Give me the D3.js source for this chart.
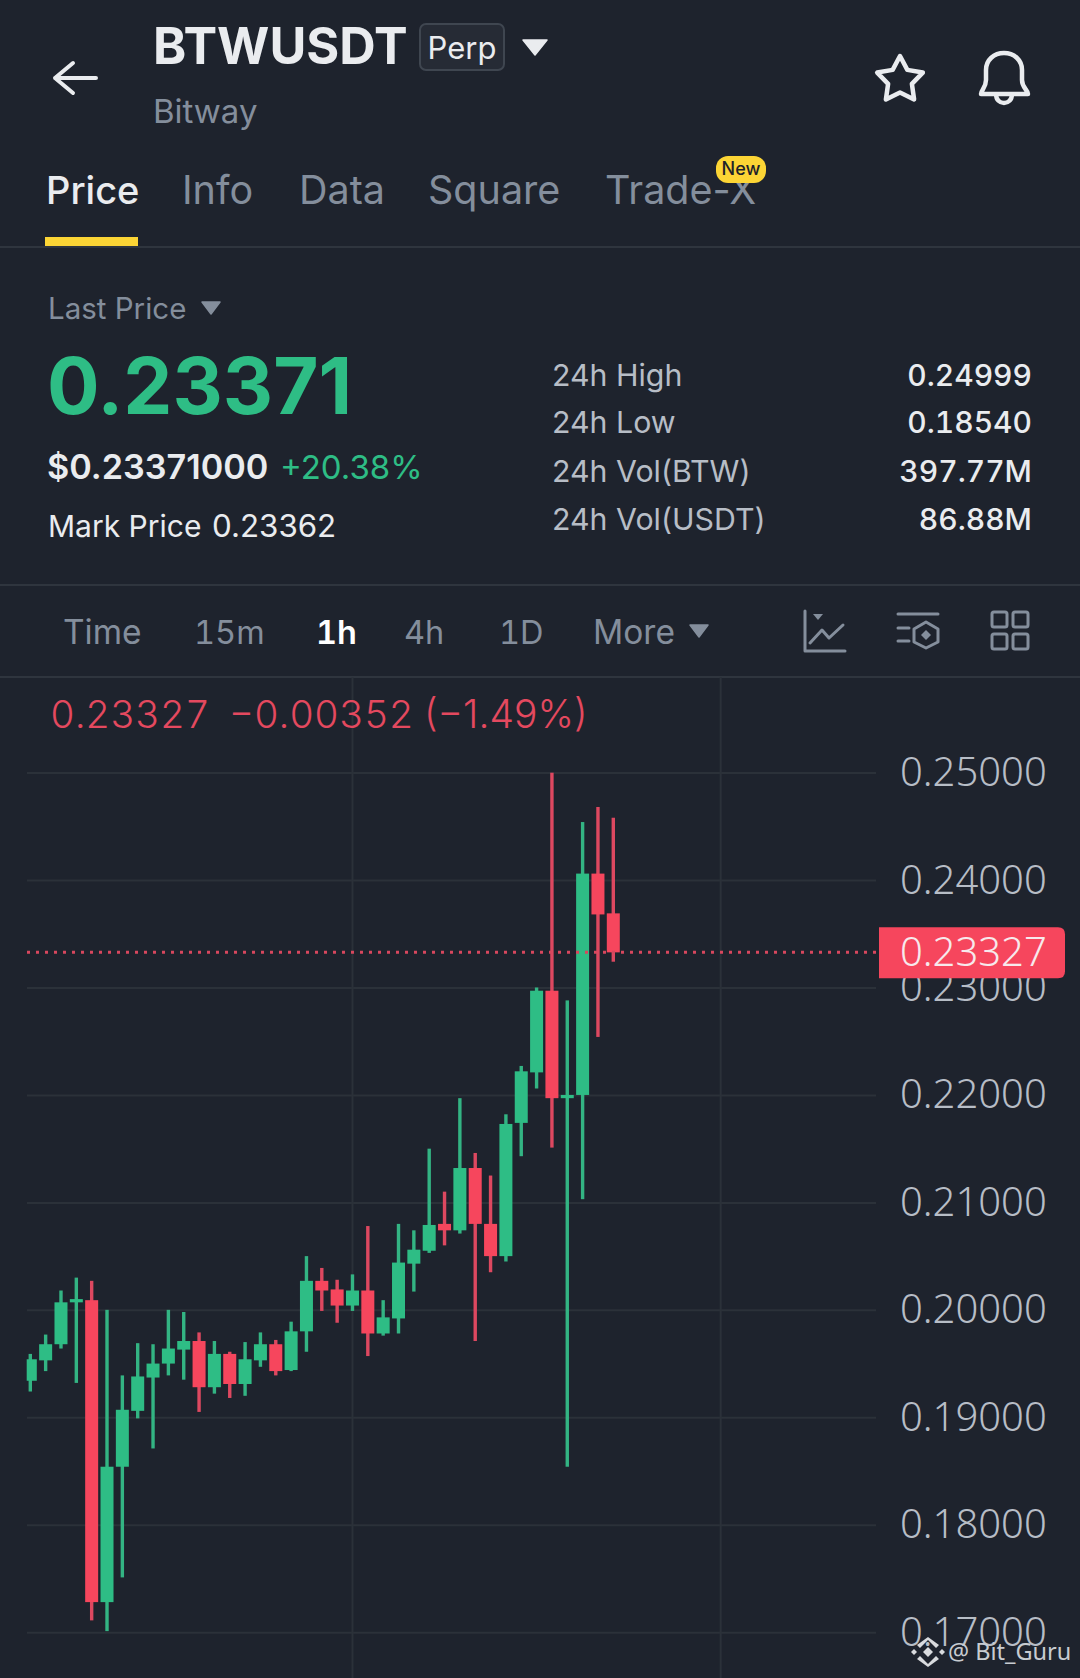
<!DOCTYPE html>
<html>
<head>
<meta charset="utf-8">
<script src="https://cdn.jsdelivr.net/npm/d3@7"></script>
<style>
	html, body { margin: 0; padding: 0; background: #1e232d; }
	svg { display: block; }
	text { font-family: Inter, sans-serif; }
	.tnum { font-feature-settings: "tnum"; }
	.axis-font text { font-family: "Noto Sans", sans-serif; }
</style>
</head>
<body>
<script>
const WIDTH = 1080;
const HEIGHT = 1678;

const BG = "#1e232d";
const GREEN = "#2ebd85";
const RED = "#f6465d";
const GRID = "#2b3139";
const GREY = "#848e9c";
const LIGHT = "#eaecef";

// candles, left to right
const opens = [0.1934, 0.1953, 0.1968, 0.2007, 0.2009, 0.1728, 0.1854, 0.1906, 0.1937, 0.1950, 0.1963, 0.1971, 0.1928, 0.1959, 0.1931, 0.1953, 0.1968, 0.1944, 0.1980, 0.2027, 0.2019, 0.2004, 0.2018, 0.1978, 0.1992, 0.2043, 0.2055, 0.2080, 0.2074, 0.2132, 0.2080, 0.2050, 0.2174, 0.2221, 0.2297, 0.2197, 0.2200, 0.2406, 0.2369];
const highs = [0.1959, 0.1977, 0.2018, 0.2030, 0.2027, 0.2000, 0.1939, 0.1969, 0.1968, 0.2000, 0.1998, 0.1979, 0.1971, 0.1961, 0.1970, 0.1979, 0.1972, 0.1989, 0.2050, 0.2039, 0.2028, 0.2033, 0.2078, 0.2009, 0.2080, 0.2074, 0.2150, 0.2110, 0.2197, 0.2146, 0.2125, 0.2182, 0.2227, 0.2300, 0.24999, 0.2288, 0.2454, 0.2468, 0.2458];
const lows = [0.1924, 0.1943, 0.1964, 0.1932, 0.1711, 0.1701, 0.1751, 0.1899, 0.1871, 0.1939, 0.1935, 0.1905, 0.1922, 0.1918, 0.1920, 0.1947, 0.1939, 0.1943, 0.1961, 0.1999, 0.1988, 0.1999, 0.1957, 0.1976, 0.1978, 0.2017, 0.2053, 0.2060, 0.2071, 0.1971, 0.2035, 0.2045, 0.2143, 0.2206, 0.2151, 0.1854, 0.2103, 0.2254, 0.2324];
const closes = [0.1954, 0.1968, 0.2007, 0.2010, 0.1728, 0.1854, 0.1907, 0.1938, 0.1950, 0.1964, 0.1971, 0.1928, 0.1959, 0.1931, 0.1954, 0.1968, 0.1943, 0.1980, 0.2027, 0.2018, 0.2004, 0.2018, 0.1978, 0.1993, 0.2044, 0.2056, 0.2079, 0.2074, 0.2132, 0.2080, 0.2050, 0.2173, 0.2222, 0.2297, 0.2197, 0.2200, 0.2406, 0.2368, 0.23327];

const priceTicks = [0.25, 0.24, 0.23, 0.22, 0.21, 0.2, 0.19, 0.18, 0.17];
const dayTicks = [21, 45]; // candle index where the vertical grid lines sit
const lastPrice = 0.23327;

const tabs = [["Price", 46], ["Info", 182], ["Data", 299], ["Square", 428], ["Trade-X", 605]];
const intervals = [["Time", 63], ["15m", 194], ["1h", 316], ["4h", 404], ["1D", 499], ["More", 593]];
const statLabels = ["24h High", "24h Low", "24h Vol(BTW)", "24h Vol(USDT)"];
const statValues = ["0.24999", "0.18540", "397.77M", "86.88M"];
const statBaselines = [386, 433, 482, 530];

const svg = d3
	.select("body")
	.append("svg")
	.attr("width", WIDTH)
	.attr("height", HEIGHT);

svg.append("rect").attr("width", WIDTH).attr("height", HEIGHT).attr("fill", BG);

function label(x, y, str, size, color, weight, anchor) {
	return svg
		.append("text")
		.attr("x", x)
		.attr("y", y)
		.attr("font-size", size)
		.attr("fill", color)
		.attr("font-weight", weight || 400)
		.attr("text-anchor", anchor || "start")
		.text(str);
}

function triangle(x0, x1, y0, y1, color) {
	svg
		.append("path")
		.attr("d", `M${x0},${y0}L${x1},${y0}L${(x0 + x1) / 2},${y1}Z`)
		.attr("fill", color)
		.attr("stroke", color)
		.attr("stroke-width", 1.5)
		.attr("stroke-linejoin", "round");
}

function hline(y, thick) {
	svg.append("rect").attr("x", 0).attr("y", y).attr("width", WIDTH).attr("height", thick).attr("fill", "#2f353e");
}

// ---- header ----
svg
	.append("path")
	.attr("d", "M96,78H55M73,63L55,78L73,93")
	.attr("fill", "none")
	.attr("stroke", LIGHT)
	.attr("stroke-width", 4)
	.attr("stroke-linecap", "round")
	.attr("stroke-linejoin", "round");

label(153, 64, "BTWUSDT", 50.4, LIGHT, 700);
svg
	.append("rect")
	.attr("x", 420)
	.attr("y", 24)
	.attr("width", 84)
	.attr("height", 46)
	.attr("rx", 6)
	.attr("fill", "#262b35")
	.attr("stroke", "#3f4650")
	.attr("stroke-width", 2);
label(462, 59, "Perp", 31, LIGHT, 400, "middle");
triangle(523, 547, 40, 55, LIGHT);
label(153, 123, "Bitway", 33, GREY);

const star = d3.range(10).map((i) => {
	const r = i % 2 ? 12.5 : 24;
	const a = (i * Math.PI) / 5 - Math.PI / 2;
	return [900 + r * Math.cos(a), 80 + r * Math.sin(a)];
});
svg
	.append("path")
	.attr("d", d3.line()(star) + "Z")
	.attr("fill", "none")
	.attr("stroke", LIGHT)
	.attr("stroke-width", 4.5)
	.attr("stroke-linejoin", "round");

svg
	.append("path")
	.attr("d", "M981,94C981,90 986,88 986,80V70C986,60 994,53 1004,53C1014,53 1022,60 1022,70V80C1022,88 1028,90 1028,94ZM996,94C996,106 1012,106 1012,94")
	.attr("fill", "none")
	.attr("stroke", LIGHT)
	.attr("stroke-width", 4.5)
	.attr("stroke-linejoin", "round");

// ---- tabs ----
tabs.forEach(([name, x], i) => {
	label(x, 204, name, i === 0 ? 38 : 39.5, i === 0 ? LIGHT : GREY, i === 0 ? 500 : 400);
});
svg.append("rect").attr("x", 716).attr("y", 156).attr("width", 50).attr("height", 27).attr("rx", 12).attr("fill", "#fcd535");
label(741, 175, "New", 18, "#1e2329", 500, "middle");
svg.append("rect").attr("x", 45).attr("y", 237).attr("width", 93).attr("height", 9).attr("fill", "#fcd535");
hline(246, 2);

// ---- price block ----
label(48, 319, "Last Price", 29.5, GREY);
triangle(202, 220, 302, 314, GREY);
label(47, 414, "0.23371", 78, GREEN, 700);
label(47, 479, "$0.23371000", 34.2, LIGHT, 600);
label(280, 479, "+20.38%", 33, GREEN);
label(48, 537, "Mark Price", 30, LIGHT);
label(212, 537, "0.23362", 31.3, LIGHT);

statLabels.forEach((s, i) => {
	label(552, statBaselines[i], s, 30.3, "#b7bdc6");
	label(1032, statBaselines[i], statValues[i], 30, LIGHT, 500, "end").attr("class", "tnum");
});
hline(584, 2);

// ---- interval row ----
intervals.forEach(([name, x]) => {
	const wordy = name === "Time" || name === "More";
	label(x, 644, name, wordy ? 33.5 : 32.5, name === "1h" ? "#ffffff" : GREY, name === "1h" ? 600 : 400).attr("class", "tnum");
});
triangle(690, 708, 625, 637, GREY);

const icons = svg.append("g").attr("fill", "none").attr("stroke", GREY).attr("stroke-width", 3).attr("stroke-linecap", "round").attr("stroke-linejoin", "round");
icons.append("path").attr("d", "M805,611V651H845M810,643L822,630L829,638L843,625");
svg.append("path").attr("d", "M813,614H823L818,620Z").attr("fill", GREY);
icons.append("path").attr("d", "M898,614H938M898,628H909M898,641H909");
icons.append("path").attr("d", "M926,622L938,629V642L926,648L914,642V629Z");
svg.append("path").attr("d", "M926,630L931,635L926,640L921,635Z").attr("fill", GREY);
[992, 1013].forEach((x) => {
	[612, 634].forEach((y) => {
		icons.append("rect").attr("x", x).attr("y", y).attr("width", 15).attr("height", 15).attr("rx", 2);
	});
});
hline(676, 2);

// ---- chart ----
const y = d3.scaleLinear().domain([0.17, 0.25]).range([1632.2, 772.6]);
const x = d3.scaleLinear().domain([0, 38]).range([30.3, 613.3]);
const BODY = 13;
const WICK = 3.4;

// horizontal grid through the axis generator
const gridAxis = d3.axisLeft(y).tickValues(priceTicks).tickSize(849).tickFormat("");
const gridG = svg.append("g").attr("transform", "translate(876,0)").call(gridAxis);
gridG.select(".domain").remove();
gridG.selectAll("line").attr("stroke", GRID).attr("stroke-width", 2);

// vertical grid
svg
	.append("g")
	.selectAll("line")
	.data(dayTicks)
	.enter()
	.append("line")
	.attr("x1", (d) => x(d))
	.attr("x2", (d) => x(d))
	.attr("y1", 677)
	.attr("y2", HEIGHT)
	.attr("stroke", GRID)
	.attr("stroke-width", 2);

// ohlc line over the vertical grid
label(50, 728, "0.23327", 38.5, "#e4495f", 300).attr("class", "tnum");
label(229, 728, "\u22120.00352", 38.5, "#e4495f", 300).attr("class", "tnum");
label(424, 728, "(\u22121.49%)", 39, "#e4495f", 300);

svg
	.append("defs")
	.append("clipPath")
	.attr("id", "plot")
	.append("rect")
	.attr("x", 26.7)
	.attr("y", 677)
	.attr("width", 850)
	.attr("height", HEIGHT - 677);

const candleG = svg.append("g").attr("clip-path", "url(#plot)");
const candles = candleG
	.selectAll("g")
	.data(opens)
	.enter()
	.append("g");

candles
	.append("rect")
	.attr("x", (d, i) => x(i) - WICK / 2)
	.attr("width", WICK)
	.attr("y", (d, i) => y(highs[i]))
	.attr("height", (d, i) => y(lows[i]) - y(highs[i]))
	.attr("fill", (d, i) => (closes[i] >= d ? "#33b483" : "#dd4860"));

candles
	.append("rect")
	.attr("x", (d, i) => x(i) - BODY / 2)
	.attr("width", BODY)
	.attr("y", (d, i) => y(Math.max(d, closes[i])))
	.attr("height", (d, i) => Math.max(3, Math.abs(y(d) - y(closes[i]))))
	.attr("fill", (d, i) => (closes[i] >= d ? GREEN : RED));

// last price dotted line
svg
	.append("line")
	.attr("x1", 27)
	.attr("x2", 877)
	.attr("y1", y(lastPrice))
	.attr("y2", y(lastPrice))
	.attr("stroke", "#d8475e")
	.attr("stroke-width", 3)
	.attr("stroke-dasharray", "3 6");

// price axis
const priceAxis = d3.axisRight(y).tickValues(priceTicks).tickSize(0).tickPadding(0).tickFormat(d3.format(".5f"));
const axisG = svg.append("g").attr("class", "axis-font").attr("transform", "translate(900,0)").call(priceAxis);
axisG.select(".domain").remove();
axisG
	.selectAll("text")
	.attr("x", 0)
	.attr("dy", 0)
	.attr("y", 13)
	.attr("font-size", 40)
	.attr("font-weight", 300)
	.attr("fill", "#b7bdc6");

// last price tag, flat on the left side
const tagY = y(lastPrice);
svg
	.append("path")
	.attr("d", `M879,${tagY - 25}H1058Q1065,${tagY - 25} 1065,${tagY - 18}V${tagY + 19}Q1065,${tagY + 26} 1058,${tagY + 26}H879Z`)
	.attr("fill", RED);
svg
	.append("text")
	.attr("x", 900)
	.attr("y", tagY + 14)
	.attr("font-size", 40)
	.attr("font-weight", 300)
	.attr("fill", "#f7e9ec")
	.style("font-family", '"Noto Sans", sans-serif')
	.text(d3.format(".5f")(lastPrice));

// watermark
const logo = svg.append("g").attr("transform", "translate(928,1652)").attr("fill", "#d9dbde");
logo.append("path").attr("d", "M0,-5L5,0L0,5L-5,0Z");
logo.append("path").attr("d", "M-8,-4L0,-12L8,-4L11,-7L0,-15L-11,-7Z");
logo.append("path").attr("d", "M-8,4L0,12L8,4L11,7L0,15L-11,7Z");
logo.append("path").attr("d", "M-14,-3L-11,0L-14,3L-17,0Z");
logo.append("path").attr("d", "M14,-3L17,0L14,3L11,0Z");
svg
	.append("text")
	.attr("x", 948)
	.attr("y", 1660)
	.attr("font-size", 23.5)
	.attr("fill", "#c8ccd1")
	.style("font-family", '"Noto Sans", sans-serif')
	.text("@ Bit_Guru");
</script>
</body>
</html>
